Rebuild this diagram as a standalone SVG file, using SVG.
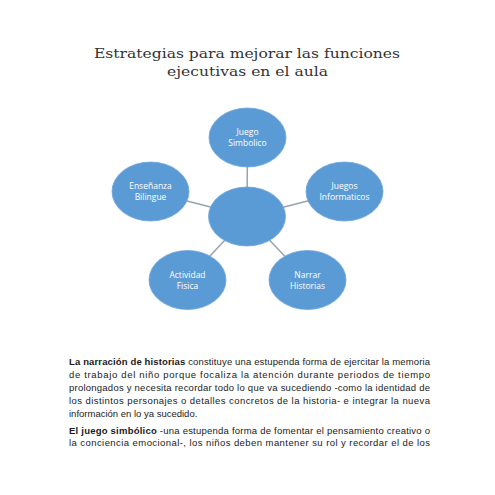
<svg xmlns="http://www.w3.org/2000/svg" width="495" height="495" viewBox="0 0 495 495">
<style>
.title{font-family:"DejaVu Serif","Liberation Serif",serif;font-size:13px;fill:#333}
.node{fill:#5b9bd5;stroke:#6ea7dc;stroke-width:0.8}
.lbl{font-family:"Open Sans","Liberation Sans",sans-serif;font-size:8.5px;fill:#fff;text-anchor:middle}
.conn{stroke:#97a3b0;stroke-width:1.5;fill:none}
.p{font-family:"Liberation Sans",Arial,sans-serif;font-size:9.5px;fill:#1a1a1a}
.b{font-weight:bold}
</style>
<rect width="495" height="495" fill="#fff"/>
<g id="title">
<text class="title" x="94" y="57.5" textLength="306" lengthAdjust="spacingAndGlyphs">Estrategias para mejorar las funciones</text>
<text class="title" x="167" y="75.5" textLength="161" lengthAdjust="spacingAndGlyphs">ejecutivas en el aula</text>
</g>
<g id="connectors">
<line class="conn" x1="247" y1="216.5" x2="247.5" y2="137.5"/>
<line class="conn" x1="247" y1="216.5" x2="150.5" y2="191.5"/>
<line class="conn" x1="247" y1="216.5" x2="344.5" y2="191.5"/>
<line class="conn" x1="247" y1="216.5" x2="187.5" y2="280"/>
<line class="conn" x1="247" y1="216.5" x2="307.5" y2="280"/>
</g>
<g id="center"><ellipse class="node" cx="247" cy="216.5" rx="38.5" ry="29.5"/></g>
<g id="juego-simbolico"><ellipse class="node" cx="247.5" cy="137.5" rx="38.5" ry="29.5"/>
<text class="lbl" x="247.5" y="134.5">Juego</text><text class="lbl" x="247.5" y="145.5">Simbolico</text></g>
<g id="ensenanza-bilingue"><ellipse class="node" cx="150.5" cy="191.5" rx="38.5" ry="29.5"/>
<text class="lbl" x="150.5" y="189">Enseñanza</text><text class="lbl" x="150.5" y="200">Bilingue</text></g>
<g id="juegos-informaticos"><ellipse class="node" cx="344.5" cy="191.5" rx="38.5" ry="29.5"/>
<text class="lbl" x="344.5" y="189">Juegos</text><text class="lbl" x="344.5" y="200">Informaticos</text></g>
<g id="actividad-fisica"><ellipse class="node" cx="187.5" cy="280" rx="38.5" ry="29.5"/>
<text class="lbl" x="187.5" y="277.5">Actividad</text><text class="lbl" x="187.5" y="288.5">Fisica</text></g>
<g id="narrar-historias"><ellipse class="node" cx="307.5" cy="280" rx="38.5" ry="29.5"/>
<text class="lbl" x="307.5" y="277.5">Narrar</text><text class="lbl" x="307.5" y="288.5">Historias</text></g>
<g id="body">
<text class="p" x="69" y="365" textLength="361" lengthAdjust="spacing"><tspan class="b">La narración de historias</tspan> constituye una estupenda forma de ejercitar la memoria</text>
<text class="p" x="69" y="378" textLength="361" lengthAdjust="spacing">de trabajo del niño porque focaliza la atención durante periodos de tiempo</text>
<text class="p" x="69" y="391" textLength="361" lengthAdjust="spacing">prolongados y necesita recordar todo lo que va sucediendo -como la identidad de</text>
<text class="p" x="69" y="404" textLength="361" lengthAdjust="spacing">los distintos personajes o detalles concretos de la historia- e integrar la nueva</text>
<text class="p" x="69" y="417">información en lo ya sucedido.</text>
<text class="p" x="69" y="433.5" textLength="361" lengthAdjust="spacing"><tspan class="b">El juego simbólico</tspan> -una estupenda forma de fomentar el pensamiento creativo o</text>
<text class="p" x="69" y="446" textLength="361" lengthAdjust="spacing">la conciencia emocional-, los niños deben mantener su rol y recordar el de los</text>
</g>
</svg>
